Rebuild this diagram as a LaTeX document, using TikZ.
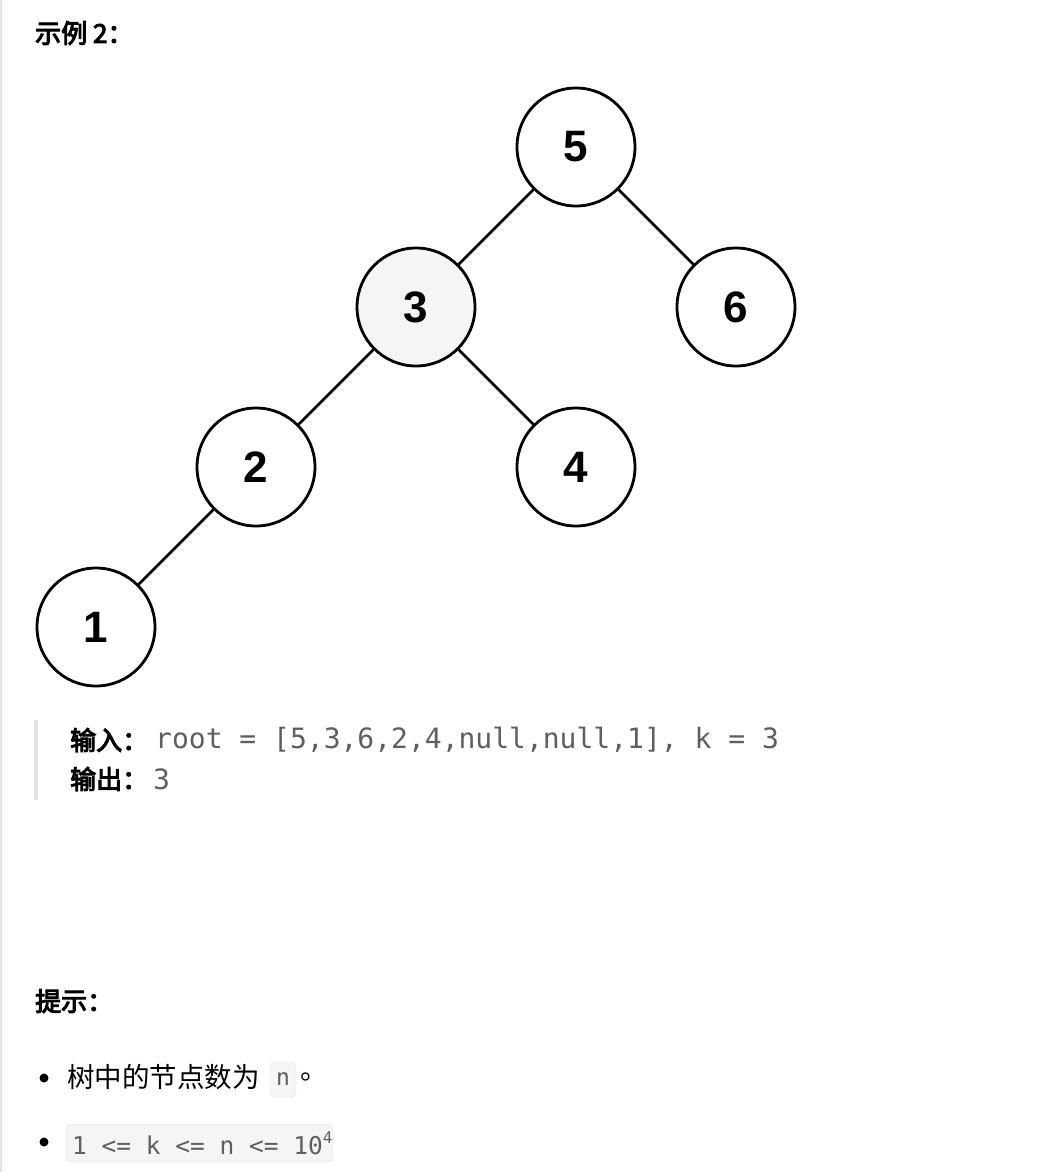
\documentclass[tikz,border=0pt]{standalone}
\usepackage{fontspec}
\setmainfont{Liberation Sans}
\newfontfamily\cjk{Noto Sans CJK SC}
\newfontfamily\cjkb{Noto Sans CJK SC}[FakeBold=4]
\newfontfamily\mono{DejaVu Sans Mono}
\definecolor{codegray}{HTML}{5F5F5F}
\definecolor{boxfill}{HTML}{F5F5F5}
\definecolor{boxline}{HTML}{E3E3E3}
\tikzset{
  tn/.style={circle,draw=black,line width=2.8pt,minimum size=118pt,inner sep=0pt,fill=white,font=\fontsize{44}{44}\selectfont\bfseries},
  ed/.style={line width=2.6pt},
  lbl/.style={anchor=west,inner sep=0pt,font=\cjkb\fontsize{26}{26}\selectfont},
  txt/.style={anchor=west,inner sep=0pt,font=\cjk\fontsize{27.5}{27.5}\selectfont},
  code/.style={anchor=west,inner sep=0pt,text=codegray,font=\mono\fontsize{28}{28}\selectfont},
}
\begin{document}
\begin{tikzpicture}[x=1pt,y=-1pt]
\useasboundingbox (0,0) rectangle (1039,1172);
\fill[white] (0,0) rectangle (1039,1172);
\fill[boxline] (0,0) rectangle (2,1172);
\node[lbl] (title) at (35,33) {示例 2：};
\begin{scope}
\clip (0,0) rectangle (1039,687);
\node[tn] (n5) at (576,147) {5};
\node[tn,fill=boxfill] (n3) at (416,307) {3};
\node[tn] (n6) at (736,307) {6};
\node[tn] (n2) at (256,467) {2};
\node[tn] (n4) at (576,467) {4};
\node[tn] (n1) at (96,627) {1};
\draw[ed] (n5) -- (n3);
\draw[ed] (n5) -- (n6);
\draw[ed] (n3) -- (n2);
\draw[ed] (n3) -- (n4);
\draw[ed] (n2) -- (n1);
\end{scope}
\fill[boxline] (34,720) rectangle (38,800);
\node[lbl] (in) at (70,740) {输入：};
\node[code] (inv) at (155,740) {root = [5,3,6,2,4,null,null,1], k = 3};
\node[lbl] (out) at (70,779) {输出：};
\node[code] (outv) at (153,779) {3};
\node[lbl] (hint) at (35,1001) {提示：};
\fill (44,1078) circle (4.5);
\node[txt] (t1) at (67,1077) {树中的节点数为};
\draw[boxline,fill=boxfill,rounded corners=5] (270,1062) rectangle (296,1097);
\node[code,font=\mono\fontsize{23}{23}\selectfont] (cn) at (276,1079) {n};
\node[txt] (dot) at (300,1077) {。};
\fill (44,1142) circle (4.5);
\draw[boxline,fill=boxfill,rounded corners=5] (66,1124) rectangle (333,1162);
\node[code,font=\mono\fontsize{24.5}{24.5}\selectfont] (c2) at (72,1143) {1 <= k <= n <= 10\raisebox{0.45em}{\fontsize{16}{16}\selectfont 4}};
\end{tikzpicture}
\end{document}
